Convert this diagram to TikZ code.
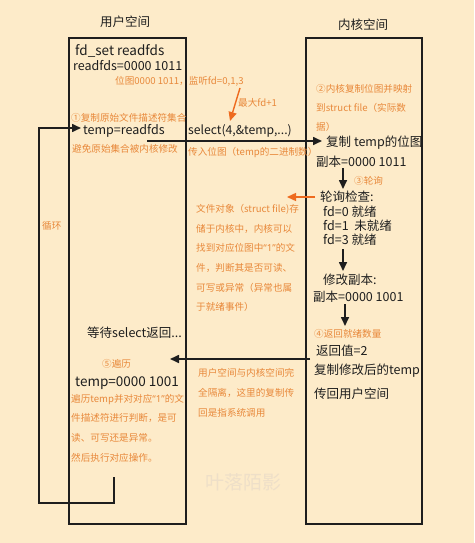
\documentclass[tikz,border=0pt]{standalone}
\usepackage{fontspec}
\setmainfont{Noto Sans CJK SC}
\newfontfamily\latq{Noto Sans}
\usetikzlibrary{arrows.meta}
\definecolor{bg}{HTML}{FDEBC9}
\definecolor{ortext}{HTML}{E8883A}
\definecolor{orarrow}{HTML}{EE6A1E}
\definecolor{ink}{HTML}{1E1E1E}
\definecolor{wm}{HTML}{EEDFC8}
\begin{document}
\begin{tikzpicture}[x=1pt,y=-1pt,
  blk/.style={anchor=west,inner sep=0pt,font=\fontsize{12.5}{14}\selectfont,text=ink},
  big/.style={anchor=west,inner sep=0pt,font=\fontsize{13.5}{15}\selectfont,text=ink},
  org/.style={anchor=west,inner sep=0pt,font=\fontsize{9.6}{11}\selectfont,text=ortext},
  title/.style={inner sep=0pt,font=\fontsize{12.5}{14}\selectfont,text=ink},
  spacebox/.style={draw=ink,line width=1.6pt,anchor=north west,inner sep=0pt,minimum width=117pt,minimum height=486pt},
  arr/.style={draw=ink,line width=1.6pt,-{Triangle[length=9pt,width=8pt]}},
  oarr/.style={draw=orarrow,line width=1.4pt,-{Triangle[length=9pt,width=8pt]}}]
\fill[bg] (0,0) rectangle (474,543);
\useasboundingbox (0,0) rectangle (474,543);

% titles
\node[title] (tu) at (125,22) {用户空间};
\node[title] (tk) at (363,25) {内核空间};

% boxes
\node[spacebox] (ubox) at (68,37) {};
\node[spacebox,minimum width=116pt] (kbox) at (305,37) {};

% user space texts
\node[big] (fdset) at (75,51) {fd\_set readfds};
\node[blk] (rfds) at (73,66) {readfds=0000 1011};
\node[org] (bitmap) at (115,81) {位图0000 1011，监听fd=0,1,3};
\node[org] (maxfd) at (238,103) {最大fd+1};
\node[org] (s1) at (71,118) {①复制原始文件描述符集合};
\node[blk] (tmp) at (83,131) {temp=readfds};
\node[org] (avoid) at (72,149) {避免原始集合被内核修改};
\node[org] (loop) at (42,226) {循环};
\node[blk,font=\fontsize{12.2}{14}\selectfont] (sel) at (188,131) {select(4,\&temp,...)};
\node[org] (pass) at (188,152) {传入位图（temp的二进制数）};

% kernel texts
\node[org,align=left,font=\fontsize{9.6}{19}\selectfont] (s2) at (316,108) {②内核复制位图并映射\\到struct file（实际数\\据）};
\node[blk] (copy) at (326,143) {复制 temp的位图};
\node[blk] (cp1) at (316,162) {副本=0000 1011};
\node[org] (s3) at (354,181) {③轮询};
\node[blk] (poll) at (320,197) {轮询检查:};
\node[blk] (fd0) at (323,212) {fd=0 就绪};
\node[blk] (fd1) at (323,226) {fd=1 \ 未就绪};
\node[blk] (fd3) at (323,240) {fd=3 就绪};
\node[blk] (mod) at (323,280) {修改副本:};
\node[blk] (cp2) at (313,297) {副本=0000 1001};
\node[org] (s4) at (314,334) {④返回就绪数量};
\node[blk] (ret) at (316,351) {返回值=2};
\node[blk] (cpmod) at (314,371) {复制修改后的temp};
\node[blk] (back) at (314,394) {传回用户空间};

% middle notes
\node[org,align=left,font=\fontsize{9.6}{19.6}\selectfont] (fobj) at (196,258) {文件对象（struct file)存\\储于内核中，内核可以\\找到对应位图中{\latq “1”}的文\\件，判断其是否可读、\\可写或异常（异常也属\\于就绪事件）};
\node[org,align=left,font=\fontsize{9.6}{20}\selectfont] (iso) at (198,393) {用户空间与内核空间完\\全隔离，这里的复制传\\回是指系统调用};

% user lower texts
\node[blk] (wait) at (87,333) {等待select返回...};
\node[org] (s5) at (102,364) {⑤遍历};
\node[big] (tmp2) at (75,383) {temp=0000 1001};
\node[org,align=left,font=\fontsize{9.6}{19.6}\selectfont] (trav) at (71,428) {遍历temp并对对应{\latq “1”}的文\\件描述符进行判断，是可\\读、可写还是异常。\\然后执行对应操作。};

% watermark
\node[inner sep=0pt,anchor=west,font=\fontsize{19}{21}\selectfont,text=wm] (wmk) at (205,482) {叶落陌影};

% connector coordinates
\coordinate (selA) at (147,141);
\coordinate (selB) at (322,141);
\coordinate (mA) at (240,88);
\coordinate (mB) at (230,121);
\coordinate (d1a) at (343,168);
\coordinate (d1b) at (343,189);
\coordinate (pA) at (315,197);
\coordinate (pB) at (287,197);
\coordinate (d2a) at (343,249);
\coordinate (d2b) at (343,271);
\coordinate (d3a) at (345,304);
\coordinate (d3b) at (345,326);
\coordinate (rA) at (310,359);
\coordinate (rB) at (170,359);
\coordinate (l0) at (114,477);
\coordinate (l1) at (114,503);
\coordinate (l2) at (39,503);
\coordinate (l3) at (39,128);
\coordinate (l4) at (81,128);

% connectors
\draw[arr] (selA) -- (selB);
\draw[oarr] (mA) -- (mB);
\draw[arr] (d1a) -- (d1b);
\draw[oarr] (pA) -- (pB);
\draw[arr] (d2a) -- (d2b);
\draw[arr] (d3a) -- (d3b);
\draw[arr] (rA) -- (rB);
\draw[arr] (l0) -- (l1) -- (l2) -- (l3) -- (l4);
\end{tikzpicture}
\end{document}
